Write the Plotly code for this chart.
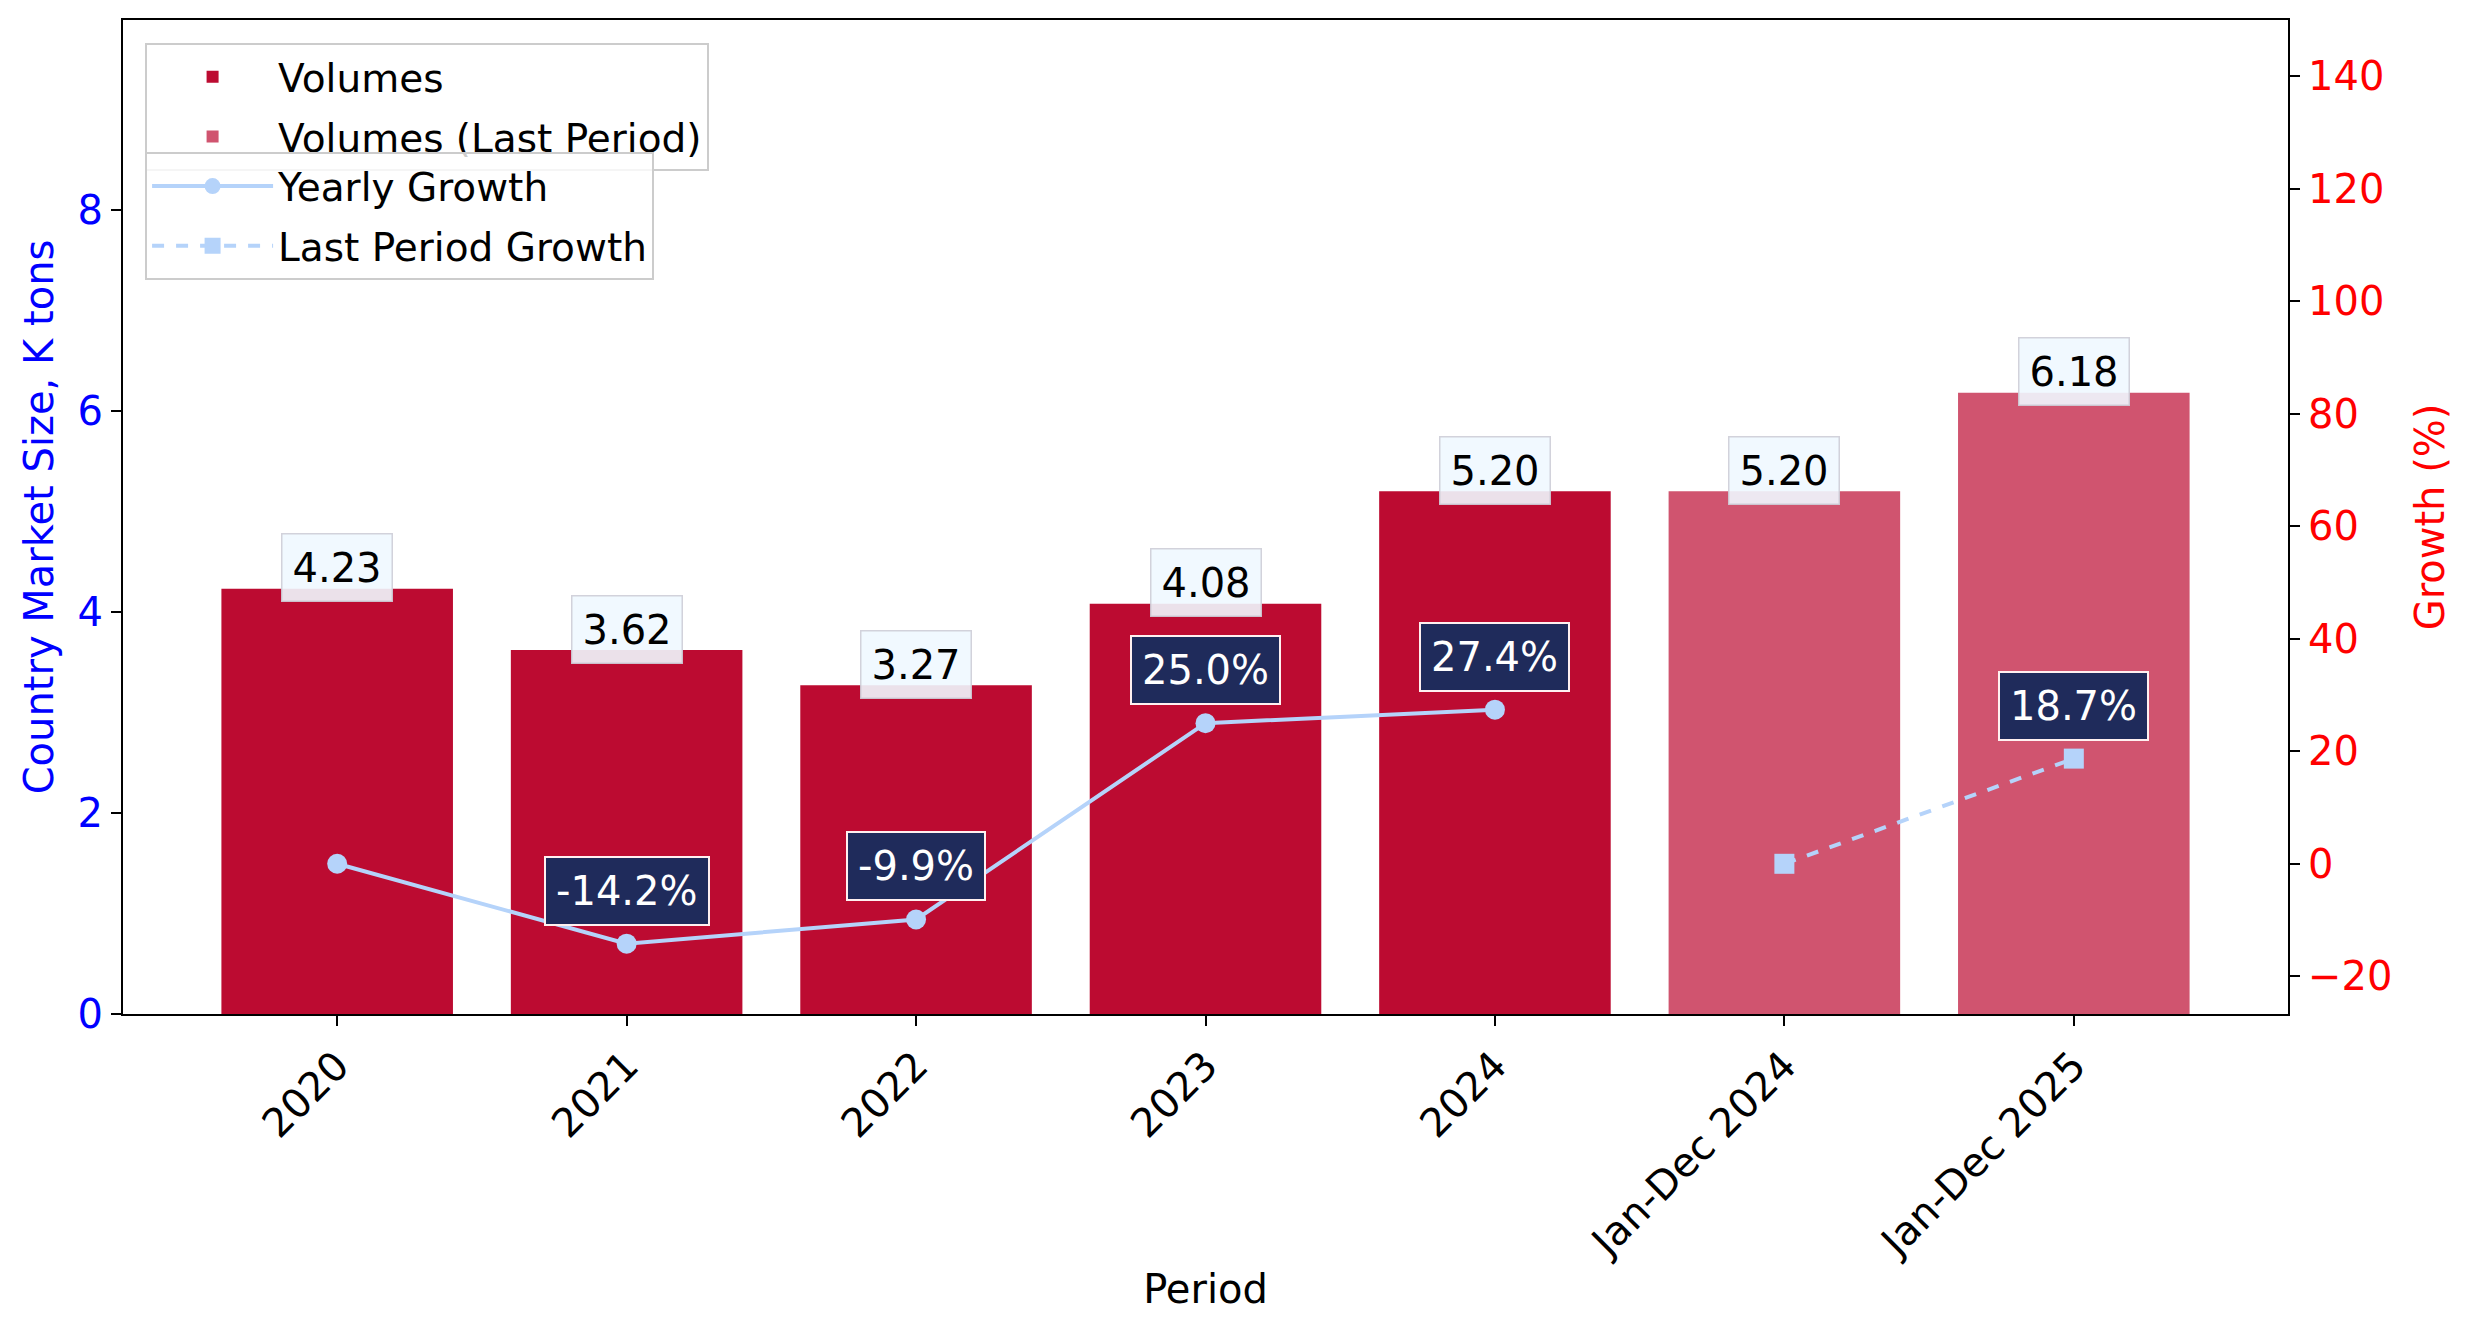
import plotly.graph_objects as go

# ---- data ----
categories = ["2020", "2021", "2022", "2023", "2024", "Jan-Dec 2024", "Jan-Dec 2025"]
hist_categories = ["2020", "2021", "2022", "2023", "2024"]
last_categories = ["Jan-Dec 2024", "Jan-Dec 2025"]
volumes = [4.23, 3.62, 3.27, 4.08, 5.20]
volumes_last = [5.20, 6.18]
yearly_growth = [0.0, -14.2, -9.9, 25.0, 27.4]
last_growth = [0.0, 18.7]
growth_ticks = [-20, 0, 20, 40, 60, 80, 100, 120, 140]
volume_ticks = [0, 2, 4, 6, 8]

# ---- style ----
FONT = "DejaVu Sans"
BAR = "#BC0B31"
BAR_LAST = "#D0546F"
LINE = "#B5D3FA"
NAVY = "#1F2B5B"

fig = go.Figure()

fig.add_trace(go.Bar(
    x=hist_categories, y=volumes, name="Volumes", width=0.8,
    marker=dict(color=BAR, line=dict(width=0)), legend="legend", legendgroup="a",
))
fig.add_trace(go.Bar(
    x=last_categories, y=volumes_last, name="Volumes (Last Period)", width=0.8,
    marker=dict(color=BAR_LAST, line=dict(width=0)), legend="legend", legendgroup="b",
))
fig.add_trace(go.Scatter(
    x=hist_categories, y=yearly_growth, name="Yearly Growth", yaxis="y2",
    mode="lines+markers", line=dict(color=LINE, width=4),
    marker=dict(color=LINE, size=20, symbol="circle"), legend="legend2", legendgroup="c",
))
fig.add_trace(go.Scatter(
    x=last_categories, y=last_growth, name="Last Period Growth", yaxis="y2",
    mode="lines+markers", line=dict(color=LINE, width=4, dash="dash"),
    marker=dict(color=LINE, size=20, symbol="square"), legend="legend2", legendgroup="d",
))

annotations = []
for c, v in zip(hist_categories + last_categories, volumes + volumes_last):
    annotations.append(dict(
        x=categories.index(c), y=v, xref="x", yref="y", text=f"{v:.2f}", showarrow=False,
        yanchor="middle", yshift=21,
        font=dict(family=FONT, size=40, color="black"),
        bgcolor="rgba(240,248,255,0.9)", bordercolor="rgba(205,205,215,0.9)",
        borderwidth=1.5, borderpad=10,
    ))
for c, g in zip(hist_categories + last_categories, yearly_growth + last_growth):
    if g != 0:
        annotations.append(dict(
            x=categories.index(c), y=g, xref="x", yref="y2", text=f"{g:.1f}%", showarrow=False,
            yanchor="middle", yshift=53,
            font=dict(family=FONT, size=40, color="white"),
            bgcolor=NAVY, bordercolor="rgba(255,240,240,1)",
            borderwidth=2, borderpad=10,
        ))

ymax = max(volumes + volumes_last) * 1.6

axis_common = dict(
    showline=True, linecolor="black", linewidth=2, ticks="outside",
    ticklen=10, tickwidth=2, tickcolor="black", showgrid=False, zeroline=False,
)

legend_common = dict(
    xanchor="left", yanchor="top",
    bgcolor="rgba(255,255,255,0.8)", bordercolor="#CCCCCC", borderwidth=2,
    font=dict(family=FONT, size=39, color="black"), itemwidth=121,
    traceorder="grouped", tracegroupgap=6,
)

fig.update_layout(
    width=2473, height=1338, autosize=False,
    margin=dict(l=123, r=185, t=20, b=324, pad=0),
    paper_bgcolor="white", plot_bgcolor="white",
    font=dict(family=FONT, size=40, color="black"),
    barmode="overlay",
    showlegend=True,
    annotations=annotations,
    xaxis=dict(
        type="category", categoryorder="array", categoryarray=categories,
        range=[-0.74, 6.74], mirror=True, tickangle=-45,
        tickfont=dict(family=FONT, size=40, color="black"),
        title=dict(text="Period", font=dict(family=FONT, size=40, color="black"), standoff=10),
        automargin=False, **axis_common,
    ),
    yaxis=dict(
        range=[0, ymax], tickvals=volume_ticks, mirror=True,
        tickfont=dict(family=FONT, size=40, color="blue"),
        title=dict(text="Country Market Size, K tons", font=dict(family=FONT, size=40, color="blue"), standoff=12),
        automargin=False, **axis_common,
    ),
    yaxis2=dict(
        overlaying="y", side="right", range=[-26.7, 150], tickvals=growth_ticks,
        tickfont=dict(family=FONT, size=40, color="red"),
        title=dict(text="Growth (%)", font=dict(family=FONT, size=40, color="red"), standoff=25),
        automargin=False, **axis_common,
    ),
    legend=dict(x=0.0102, y=0.977, **legend_common),
    legend2=dict(x=0.0102, y=0.867, **legend_common),
)

fig.write_html("out.html")
